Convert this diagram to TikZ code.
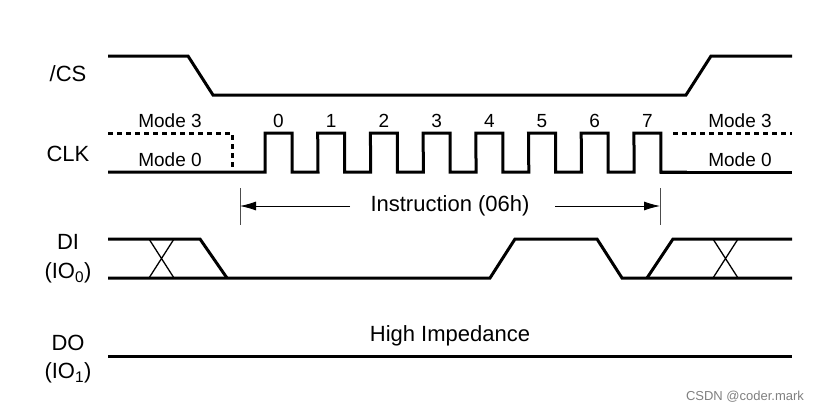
\documentclass[tikz,border=0pt]{standalone}
\usepackage{fontspec}
\setmainfont{Liberation Sans}
\usetikzlibrary{arrows.meta}
\begin{document}
\begin{tikzpicture}[x=1pt,y=-1pt,
  sig/.style={line width=3pt,line join=miter},
  thin/.style={line width=1pt},
  dsh/.style={sig,dash pattern=on 5pt off 4pt},
  lab/.style={font=\fontsize{22}{26}\selectfont},
  mlab/.style={font=\fontsize{19}{22}\selectfont},
  arr/.style={line width=0.8pt,-{Latex[length=16pt,width=9pt]}}]
\useasboundingbox (0,0) rectangle (833,413);
% labels
\node[lab] (lcs) at (68,74) {/CS};
\node[lab] (lclk) at (68,154) {CLK};
\node[lab] (ldi) at (68,242) {DI};
\node[lab] (lio0) at (68,273) {(IO\textsubscript{0})};
\node[lab] (ldo) at (68,343) {DO};
\node[lab] (lio1) at (68,373) {(IO\textsubscript{1})};
% CS
\draw[sig] (108,56) -- (188,56) -- (213,95) -- (686,95) -- (711,56) -- (792,56);
% CLK
\draw[dsh] (108,133) -- (232,133) -- (232,172);
\draw[dsh] (673,133) -- (792,133);
\draw[sig] (108,172) -- (265,172)
  \foreach \i in {0,...,7} { -- ({265+52.7*\i},133) -- ({292+52.7*\i},133) -- ({292+52.7*\i},172) -- ({318+52.7*\i},172) };
\draw[sig] (660,172) -- (792,172);
\foreach \i in {0,...,7} \node[mlab] (n\i) at ({278.5+52.7*\i},121) {\i};
\node[mlab] (m3l) at (170,121) {Mode 3};
\node[mlab] (m0l) at (170,160) {Mode 0};
\node[mlab] (m3r) at (740,121) {Mode 3};
\node[mlab] (m0r) at (740,160) {Mode 0};
% Instruction
\coordinate (t1a) at (240,188); \coordinate (t1b) at (240,225);
\coordinate (t2a) at (660,188); \coordinate (t2b) at (660,225);
\draw[thin,gray!60!black] (t1a) -- (t1b) (t2a) -- (t2b);
\node[lab] (ins) at (450,206) {Instruction (06h)};
\coordinate (al) at (240,206); \coordinate (ar) at (660,206);
\draw[arr] (350,206) -- (al);
\draw[arr] (555,206) -- (ar);
% DI
\draw[sig] (108,239) -- (200,239) -- (227,278);
\draw[sig] (108,278) -- (490,278) -- (515,239) -- (597,239) -- (622,278) -- (792,278);
\draw[sig] (647,278) -- (673,239) -- (792,239);
\draw[line width=1.3pt] (149,239) -- (174,278) (174,239) -- (149,278);
\draw[line width=1.3pt] (713,239) -- (738,278) (738,239) -- (713,278);
% DO
\draw[sig] (108,356) -- (792,356);
\node[lab] (hi) at (450,336) {High Impedance};
\node[font=\fontsize{13}{15}\selectfont,text=gray] (wm) at (745,397) {CSDN @coder.mark};
\end{tikzpicture}
\end{document}
